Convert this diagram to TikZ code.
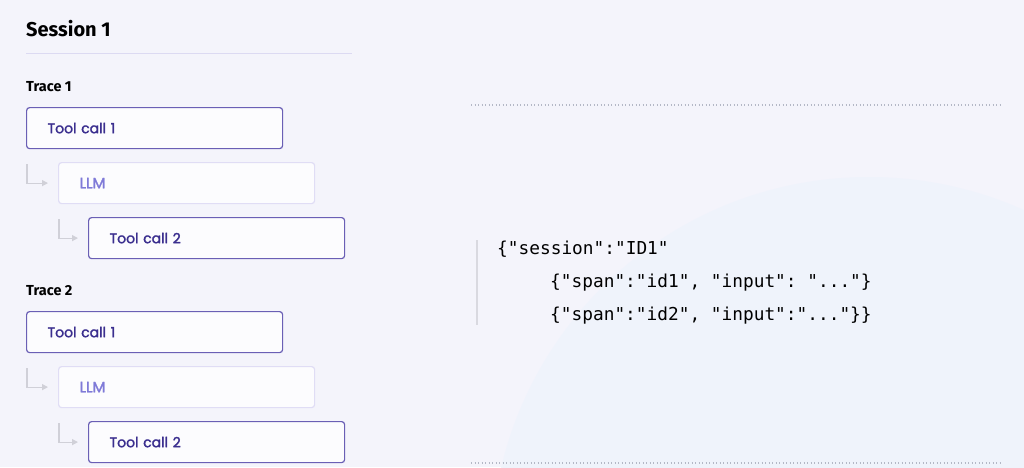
\documentclass[tikz,border=0pt]{standalone}
\usepackage{fontspec}
\setmainfont{Poppins}
\newfontfamily\labelfont{Poppins}[FakeBold=2]
\newfontfamily\headfont{Fira Sans}
\setmonofont{DejaVu Sans Mono}
\usetikzlibrary{arrows.meta}

\definecolor{pagebg}{HTML}{F4F4FB}
\definecolor{circbg}{HTML}{EFF3FB}
\definecolor{boxline}{HTML}{6A5FB5}
\definecolor{boxtext}{HTML}{3B2F8F}
\definecolor{llmline}{HTML}{E0DDF5}
\definecolor{llmtext}{HTML}{7F7AD8}
\definecolor{elbowgray}{HTML}{D0D0D8}
\definecolor{rulecol}{HTML}{DCDAF2}
\definecolor{dotcol}{HTML}{B4B8C6}

\begin{document}
\begin{tikzpicture}[x=1pt, y=-1pt,
    toolbox/.style={draw=boxline, line width=1.2pt, rounded corners=3pt, fill=white!70!pagebg,
      minimum height=41pt, text width=214pt, inner xsep=21pt, inner ysep=0pt, align=left,
      anchor=north west, text=boxtext, font=\labelfont\fontsize{14}{16}\selectfont},
    llmbox/.style={toolbox, draw=llmline, text=llmtext, font=\labelfont\fontsize{15}{16}\selectfont},
    heading/.style={anchor=base west, inner sep=0pt, font=\headfont\bfseries\fontsize{14.5}{16}\selectfont},
    elbow/.style={draw=elbowgray, line width=1.2pt, -{Triangle[length=6pt, width=6pt]}},
    codeline/.style={anchor=base west, inner sep=0pt, font=\ttfamily\fontsize{17.8}{19}\selectfont},
    dotrule/.style={draw=dotcol, line width=1.3pt, dash pattern=on 1.3pt off 2.2pt}]

    \useasboundingbox (0,0) rectangle (1024,467);
    \fill[pagebg] (0,0) rectangle (1024,467);
    \begin{scope}
        \clip (0,0) rectangle (1024,467);
        \fill[circbg] (869,555) circle[radius=378];
    \end{scope}

    % left: session with two traces
    \node[heading, font=\headfont\bfseries\fontsize{20}{22}\selectfont] (session) at (26,36) {Session 1};
    \draw[rulecol, line width=1pt] (26,53) -- (352,53);

    \node[heading] (trace1) at (26,91) {Trace 1};
    \node[toolbox] (t1a) at (26,107) {Tool call 1};
    \node[llmbox] (t1b) at (58,162) {LLM};
    \node[toolbox] (t1c) at (88,217) {Tool call 2};
    \coordinate (e1a) at (27,164);
    \coordinate (e1b) at (59,219);
    \draw[elbow] (e1a) |- ([xshift=-10pt]t1b.west);
    \draw[elbow] (e1b) |- ([xshift=-10pt]t1c.west);

    \node[heading] (trace2) at (26,295) {Trace 2};
    \node[toolbox] (t2a) at (26,311) {Tool call 1};
    \node[llmbox] (t2b) at (58,366) {LLM};
    \node[toolbox] (t2c) at (88,421) {Tool call 2};
    \coordinate (e2a) at (27,368);
    \coordinate (e2b) at (59,423);
    \draw[elbow] (e2a) |- ([xshift=-10pt]t2b.west);
    \draw[elbow] (e2b) |- ([xshift=-10pt]t2c.west);

    % right: the json
    \draw[dotrule] (471,105) -- (1001,105);
    \draw[dotrule] (471,463) -- (1001,463);
    \draw[draw=elbowgray!80, line width=1.5pt] (477,240) -- (477,325);
    \node[codeline] (code1) at (497,254) {\{"session":"ID1"};
    \node[codeline] (code2) at (550,287) {\{"span":"id1", "input": "..."\}};
    \node[codeline] (code3) at (550,320) {\{"span":"id2", "input":"..."\}\}};
\end{tikzpicture}
\end{document}
